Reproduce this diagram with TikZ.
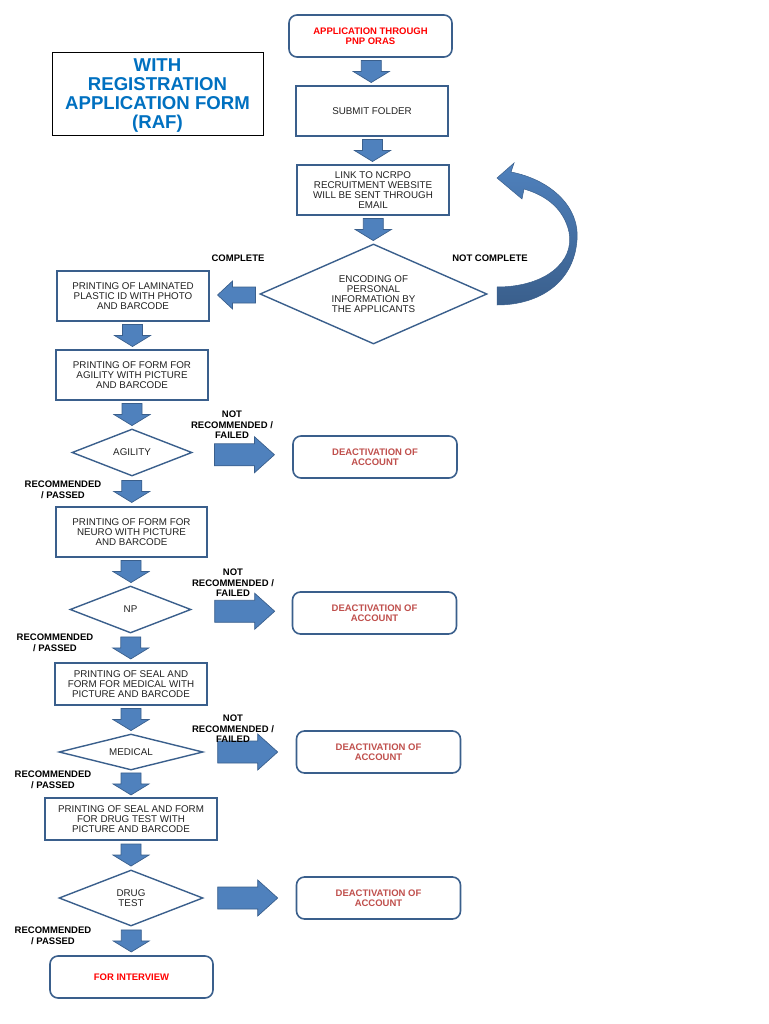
\documentclass[tikz,border=0pt]{standalone}
\usepackage{fontspec}
\setmainfont{Liberation Sans}
\usetikzlibrary{shapes.geometric,calc}

\definecolor{boxblue}{HTML}{3A5F8C}
\definecolor{arrowblue}{HTML}{4F81BD}
\definecolor{titleblue}{HTML}{0070C0}
\definecolor{deactred}{HTML}{C0504D}
\definecolor{textgray}{HTML}{222222}

\tikzset{
	boxfont/.style={font=\fontsize{9.8}{10}\selectfont, text=textgray},
	labelfont/.style={font=\bfseries\fontsize{9.5}{10.5}\selectfont, align=center},
	titletext/.style={align=center, text=titleblue, inner sep=0pt, font=\bfseries\fontsize{18.6}{19}\selectfont},
	stepbox/.style={draw=boxblue, line width=1.6pt, fill=white, align=center, inner sep=1pt, boxfont},
	roundbox/.style={stepbox, rounded corners=8pt, font=\bfseries\fontsize{9.5}{10.5}\selectfont},
	deactbox/.style={roundbox, minimum width=164pt, minimum height=42pt, text=deactred},
	decision/.style={diamond, draw=boxblue, line width=1.4pt, fill=white, inner sep=0pt},
	decisiontext/.style={boxfont, align=center, inner sep=0pt},
	blockarrow/.style={draw=boxblue, fill=arrowblue, line width=0.7pt},
	downblock/.pic={\filldraw[blockarrow] (-10,-11) -- (10,-11) -- (10,0) -- (18,0) -- (0,11) -- (-18,0) -- (-10,0) -- cycle;},
	rightblock/.pic={\filldraw[blockarrow] (-30,-11) -- (10,-11) -- (10,-18) -- (30,0) -- (10,18) -- (10,11) -- (-30,11) -- cycle;},
	leftblock/.pic={\filldraw[blockarrow] (19,-8) -- (-4,-8) -- (-4,-14) -- (-19,0) -- (-4,14) -- (-4,8) -- (19,8) -- cycle;}
}

\begin{document}
\begin{tikzpicture}[x=1pt, y=-1pt]
\useasboundingbox (0,0) rectangle (768,1024);

%title
\node[draw=black, line width=0.8pt, minimum width=211pt, minimum height=83pt, label={[titletext, yshift=-2pt]center:WITH\\REGISTRATION\\APPLICATION FORM\\(RAF)}] (title) at (157.5, 93.5) {};

%main column
\node[roundbox, minimum width=163pt, minimum height=42pt, text=red] (oras) at (370.5, 36) {APPLICATION THROUGH\\PNP ORAS};
\node[stepbox, minimum width=152pt, minimum height=50pt] (submit) at (372, 111) {SUBMIT FOLDER};
\node[stepbox, minimum width=152pt, minimum height=50pt] (link) at (373, 190) {LINK TO NCRPO\\RECRUITMENT WEBSITE\\WILL BE SENT THROUGH\\EMAIL};
\node[decision, minimum width=227pt, minimum height=100pt, label={[decisiontext]center:ENCODING OF\\PERSONAL\\INFORMATION BY\\THE APPLICANTS}] (encode) at (373.5, 294) {};

%left column
\node[stepbox, minimum width=152pt, minimum height=50pt] (lamin) at (133, 296) {PRINTING OF LAMINATED\\PLASTIC ID WITH PHOTO\\AND BARCODE};
\node[stepbox, minimum width=152pt, minimum height=50pt] (agiform) at (132, 375) {PRINTING OF FORM FOR\\AGILITY WITH PICTURE\\AND BARCODE};
\node[decision, minimum width=120pt, minimum height=47pt, label={[decisiontext]center:AGILITY}] (agility) at (132, 452.5) {};
\node[stepbox, minimum width=151pt, minimum height=50pt] (neuro) at (131.5, 532) {PRINTING OF FORM FOR\\NEURO WITH PICTURE\\AND BARCODE};
\node[decision, minimum width=121pt, minimum height=47pt, label={[decisiontext]center:NP}] (np) at (130.5, 609.5) {};
\node[stepbox, minimum width=152pt, minimum height=42pt] (medform) at (131, 684) {PRINTING OF SEAL AND\\FORM FOR MEDICAL WITH\\PICTURE AND BARCODE};
\node[decision, minimum width=144pt, minimum height=36pt, label={[decisiontext]center:MEDICAL}] (medical) at (131, 752) {};
\node[stepbox, minimum width=172pt, minimum height=42pt] (drugform) at (131, 819) {PRINTING OF SEAL AND FORM\\FOR DRUG TEST WITH\\PICTURE AND BARCODE};
\node[decision, minimum width=144pt, minimum height=56pt, label={[decisiontext]center:DRUG\\TEST}] (drug) at (131, 898) {};
\node[roundbox, minimum width=163pt, minimum height=42pt, text=red] (interview) at (131.5, 977) {FOR INTERVIEW};

%deactivation
\node[deactbox] (deact1) at (375, 457) {DEACTIVATION OF\\ACCOUNT};
\node[deactbox] (deact2) at (374.5, 613) {DEACTIVATION OF\\ACCOUNT};
\node[deactbox] (deact3) at (378.5, 752) {DEACTIVATION OF\\ACCOUNT};
\node[deactbox] (deact4) at (378.5, 898) {DEACTIVATION OF\\ACCOUNT};

%down arrows
\foreach \a/\b in {oras/submit, submit/link, link/encode, lamin/agiform, agiform/agility, agility/neuro, neuro/np, np/medform, medform/medical, medical/drugform, drugform/drug, drug/interview}
	\pic at ($(\a.south)!0.5!(\b.north)$) {downblock};

%right arrows
\foreach \a/\b/\dx in {agility/deact1/2, np/deact2/3, medical/deact3/-2, drug/deact4/-2}
	\pic at ($(\a.east)!0.5!(\b.west)+(\dx,0)$) {rightblock};
\pic at ($(encode.west)!0.5!(lamin.east)+(2,0)$) {leftblock};

%curved arrow back up
\shade[top color=arrowblue, bottom color=boxblue, draw=boxblue, line width=0.5pt] (497,305) -- (497,287) .. controls (545,287) and (575,262) .. (569,232) .. controls (564,210) and (548,196) .. (524,189) -- (522,199) -- (497,178) -- (514,163) -- (511,172) .. controls (552,180) and (580,208) .. (577,240) .. controls (574,282) and (540,305) .. (497,305) -- cycle;

%labels
\node[labelfont] (complete) at (238, 258) {COMPLETE};
\node[labelfont] (notcomplete) at (490, 258) {NOT COMPLETE};
\foreach \n/\x/\y in {1/232/425, 2/233/583, 3/233/729}
	\node[labelfont] (fail\n) at (\x, \y) {NOT\\RECOMMENDED /\\FAILED};
\foreach \n/\x/\y in {1/63/490, 2/55/643, 3/53/780, 4/53/936}
	\node[labelfont] (pass\n) at (\x, \y) {RECOMMENDED\\/ PASSED};

\end{tikzpicture}
\end{document}
